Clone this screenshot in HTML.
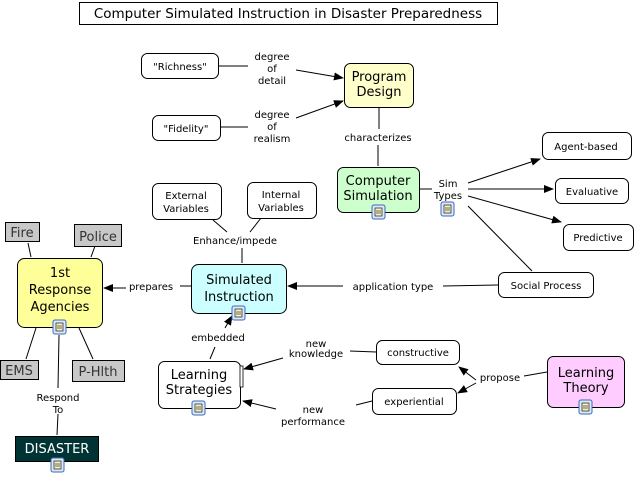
<!DOCTYPE html>
<html><head><meta charset="utf-8"><style>
html,body{margin:0;padding:0;background:#fff;}
svg{display:block;font-family:"DejaVu Sans","Liberation Sans",sans-serif;}
.s{font-size:10px;fill:#000;}
.b{font-size:13px;fill:#000;}
</style></head><body>
<svg width="636" height="478" viewBox="0 0 636 478">
<defs>
<marker id="a" markerWidth="10" markerHeight="8" refX="9" refY="4" orient="auto" markerUnits="userSpaceOnUse"><path d="M0,0 L10,4 L0,8 z" fill="#000"/></marker>
<g id="ic"><rect x="0" y="0" width="13" height="14" rx="2" fill="#dde8f8" stroke="#3a6ab8"/><rect x="3" y="3" width="7" height="8" fill="#f4f0c0" stroke="#333" stroke-width="0.8"/><line x1="4" y1="6" x2="9" y2="6" stroke="#333" stroke-width="0.7"/><line x1="4" y1="8" x2="9" y2="8" stroke="#333" stroke-width="0.7"/></g>
</defs>
<rect x="79.5" y="2.5" width="418" height="22" fill="#fff" stroke="#000"/>
<text x="288" y="18" text-anchor="middle" style="font-size:13.5px">Computer Simulated Instruction in Disaster Preparedness</text>

<g stroke="#000" stroke-width="1" fill="none">
<line x1="218" y1="66" x2="248" y2="66"/><line x1="296" y1="70" x2="343" y2="78" marker-end="url(#a)"/>
<line x1="220" y1="127" x2="248" y2="127"/><line x1="296" y1="118" x2="343" y2="101" marker-end="url(#a)"/>
<line x1="379" y1="107" x2="379" y2="129"/><line x1="378" y1="145" x2="378" y2="166"/>
<line x1="419" y1="189" x2="432" y2="189"/>
<line x1="468" y1="183" x2="540" y2="159" marker-end="url(#a)"/>
<line x1="468" y1="189" x2="553" y2="189" marker-end="url(#a)"/>
<line x1="468" y1="196" x2="561" y2="222" marker-end="url(#a)"/>
<line x1="468" y1="206" x2="532" y2="271"/>
<line x1="498" y1="285" x2="443" y2="286"/><line x1="343" y1="286" x2="288" y2="286" marker-end="url(#a)"/>
<line x1="213" y1="220" x2="227" y2="232"/><line x1="261" y1="218" x2="250" y2="232"/>
<line x1="242" y1="248" x2="242" y2="263"/>
<line x1="191" y1="286" x2="180" y2="286"/><line x1="126" y1="288" x2="104" y2="288" marker-end="url(#a)"/>
<line x1="28" y1="243" x2="31" y2="257"/><line x1="95" y1="246" x2="91" y2="257"/>
<line x1="36" y1="328" x2="26" y2="359"/><line x1="79" y1="328" x2="93" y2="359"/>
<line x1="59" y1="335" x2="58" y2="388"/><line x1="58" y1="414" x2="57" y2="435"/>
<line x1="210" y1="359" x2="215" y2="347"/><line x1="225" y1="328" x2="232" y2="316" marker-end="url(#a)"/>
<line x1="283" y1="358" x2="244" y2="369" marker-end="url(#a)"/>
<line x1="376" y1="352" x2="350" y2="351"/>
<line x1="276" y1="409" x2="243" y2="401" marker-end="url(#a)"/>
<line x1="372" y1="401" x2="356" y2="405"/>
<line x1="547" y1="372" x2="524" y2="376"/><line x1="476" y1="380" x2="459" y2="367" marker-end="url(#a)"/>
<line x1="476" y1="383" x2="458" y2="393" marker-end="url(#a)"/>
</g>

<g stroke="#000" stroke-width="1">
<rect x="141.5" y="53.5" width="77" height="25" rx="6" fill="#fff"/>
<rect x="152.5" y="115.5" width="68" height="25" rx="6" fill="#fff"/>
<rect x="344.5" y="63.5" width="69" height="44" rx="6" fill="#ffffcc"/>
<rect x="337.5" y="167.5" width="82" height="45" rx="6" fill="#ccffcc"/>
<rect x="542.5" y="132.5" width="89" height="27" rx="6" fill="#fff"/>
<rect x="555.5" y="178.5" width="73" height="25" rx="6" fill="#fff"/>
<rect x="563.5" y="224.5" width="70" height="26" rx="6" fill="#fff"/>
<rect x="498.5" y="272.5" width="95" height="25" rx="6" fill="#fff"/>
<rect x="152.5" y="183.5" width="69" height="36" rx="6" fill="#fff"/>
<rect x="247.5" y="182.5" width="69" height="36" rx="6" fill="#fff"/>
<rect x="191.5" y="264.5" width="95" height="49" rx="7" fill="#ccffff"/>
<rect x="17.5" y="258.5" width="85" height="69" rx="7" fill="#ffff99"/>
<rect x="5.5" y="222.5" width="34" height="19" fill="#c8c8c8"/>
<rect x="74.5" y="224.5" width="47" height="22" fill="#c8c8c8"/>
<rect x="0.5" y="360.5" width="38" height="19" fill="#c8c8c8"/>
<rect x="72.5" y="360.5" width="52" height="21" fill="#c8c8c8"/>
<rect x="15.5" y="436.5" width="83" height="25" fill="#003333"/>
<rect x="158.5" y="361.5" width="82" height="47" rx="6" fill="#fff"/>
<rect x="240" y="366" width="3" height="21" fill="#fff" stroke-width="0.8"/>
<rect x="376.5" y="340.5" width="83" height="24" rx="6" fill="#fff"/>
<rect x="372.5" y="388.5" width="84" height="26" rx="6" fill="#fff"/>
<rect x="547.5" y="356.5" width="77" height="51" rx="6" fill="#ffccff"/>
</g>

<g class="s" text-anchor="middle">
<text x="180" y="70">"Richness"</text>
<text x="186" y="132">"Fidelity"</text>
<text x="272" y="60">degree</text><text x="272" y="72">of</text><text x="272" y="84">detail</text>
<text x="272" y="118">degree</text><text x="272" y="130">of</text><text x="272" y="142">realism</text>
<text x="378" y="141">characterizes</text>
<text x="448" y="187">Sim</text><text x="448" y="199">Types</text>
<text x="586" y="150">Agent-based</text>
<text x="592" y="195">Evaluative</text>
<text x="598" y="241">Predictive</text>
<text x="546" y="289">Social Process</text>
<text x="393" y="290">application type</text>
<text x="186" y="199">External</text><text x="186" y="212">Variables</text>
<text x="281" y="198">Internal</text><text x="281" y="211">Variables</text>
<text x="235" y="244">Enhance/impede</text>
<text x="151" y="290">prepares</text>
<text x="218" y="341">embedded</text>
<text x="316" y="347">new</text><text x="316" y="357">knowledge</text>
<text x="313" y="413">new</text><text x="313" y="425">performance</text>
<text x="418" y="356">constructive</text>
<text x="414" y="405">experiential</text>
<text x="500" y="381">propose</text>
<text x="58" y="401">Respond</text><text x="58" y="413">To</text>
</g>
<g class="b" text-anchor="middle">
<text x="379" y="81">Program</text><text x="379" y="96">Design</text>
<text x="378" y="185">Computer</text><text x="378" y="200">Simulation</text>
<text x="239" y="284">Simulated</text><text x="239" y="301">Instruction</text>
<text x="60" y="277">1st</text><text x="60" y="294">Response</text><text x="60" y="311">Agencies</text>
<text x="22" y="237" fill="#333">Fire</text>
<text x="98" y="241" fill="#333">Police</text>
<text x="19" y="375" fill="#333">EMS</text>
<text x="98" y="376" fill="#333">P-Hlth</text>
<text x="57" y="453" fill="#fff">DISASTER</text>
<text x="199" y="379">Learning</text><text x="199" y="394">Strategies</text>
<text x="586" y="377">Learning</text><text x="586" y="392">Theory</text>
</g>
<use href="#ic" x="372" y="205"/>
<use href="#ic" x="441" y="202"/>
<use href="#ic" x="232" y="306"/>
<use href="#ic" x="53" y="320"/>
<use href="#ic" x="51" y="458"/>
<use href="#ic" x="192" y="401"/>
<use href="#ic" x="579" y="400"/>
</svg>
</body></html>
